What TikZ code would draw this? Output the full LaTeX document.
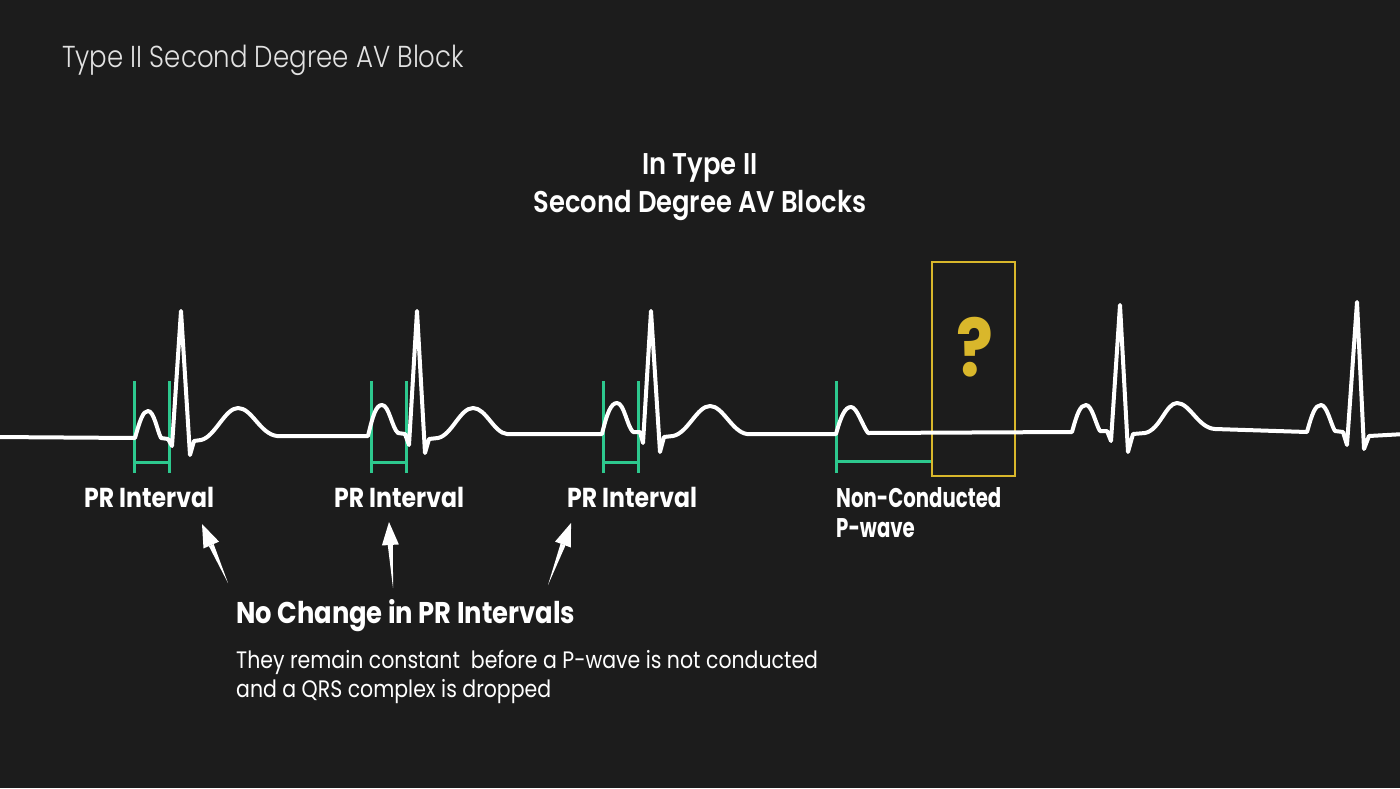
\documentclass[tikz,border=0pt]{standalone}
\usepackage{fontspec}
\setmainfont{Poppins}[FakeStretch=0.86]
\newfontfamily\lightfont{Poppins Light}[FakeStretch=0.86]
\newfontfamily\semifont{Poppins SemiBold}[FakeStretch=0.86]
\newfontfamily\narrowfont{Poppins Bold}[FakeStretch=0.73]
\usetikzlibrary{calc}
\definecolor{bgdark}{HTML}{1C1C1C}
\definecolor{prgreen}{HTML}{2DC88E}
\definecolor{qyellow}{HTML}{D9B72B}
\definecolor{titlegray}{HTML}{E2E2E2}
\tikzset{
  trace/.style={white, line width=4pt, line join=round, line cap=round},
  prmark/.style={prgreen, line width=3pt},
  prtext/.style={text=white, inner sep=0pt, anchor=base west, font=\bfseries\fontsize{27.4}{30}\selectfont},
  nctext/.style={text=white, inner sep=0pt, anchor=base west, font=\narrowfont\fontsize{27}{30}\selectfont},
  bodytext/.style={text=white, inner sep=0pt, anchor=base west, font=\fontsize{23.8}{29}\selectfont},
}
% hand drawn pointer: tapered shaft and a triangular head
\newcommand\pointer[2]{%
  \coordinate (neck) at ($(#2)!23pt!(#1)$);
  \fill[white] (#1) -- ($(neck)!2.6pt!90:(#2)$) -- ($(neck)!2.6pt!-90:(#2)$) -- cycle;
  \fill[white] (#2) -- ($(neck)!8.5pt!90:(#2)$) -- ($(neck)!8.5pt!-90:(#2)$) -- cycle;
}
\begin{document}
\begin{tikzpicture}[x=1pt, y=-1pt]
  \fill[bgdark] (0,0) rectangle (1400,788);
  \useasboundingbox (0,0) rectangle (1400,788);

  % titles
  \node[text=titlegray, inner sep=0pt, anchor=base west, font=\lightfont\fontsize{30.3}{34}\selectfont] (title) at (62,67) {Type II Second Degree AV Block};
  \node[text=white, inner sep=0pt, anchor=base, font=\semifont\fontsize{30}{34}\selectfont] (headA) at (700,174) {In Type II};
  \node[text=white, inner sep=0pt, anchor=base, font=\semifont\fontsize{30}{34}\selectfont] (headB) at (700,212) {Second Degree AV Blocks};

  % PR interval brackets
  \draw[prmark] (134,381) -- (134,473);
  \draw[prmark] (169,381) -- (169,473);
  \draw[prmark] (134,462) -- (169,462);
  \draw[prmark] (371,381) -- (371,473);
  \draw[prmark] (406,381) -- (406,473);
  \draw[prmark] (371,462) -- (406,462);
  \draw[prmark] (603,381) -- (603,473);
  \draw[prmark] (638,381) -- (638,473);
  \draw[prmark] (603,462) -- (638,462);
  \draw[prmark] (836,381) -- (836,473);
  \draw[prmark] (836,461) -- (932,461);

  % dropped QRS
  \node[draw=qyellow, line width=2.5pt, minimum width=83pt, minimum height=214pt, inner sep=0pt] (qbox) at (973.5,369) {};
  \node[text=qyellow, inner sep=0pt, font=\bfseries\fontsize{80}{80}\selectfont] (qmark) at (975,347) {?};

  % ECG trace
  \draw[trace] (-5,437) -- (135,438)
    .. controls (140,420) and (143,411) .. (148,411) .. controls (154,411) and (157,430) .. (161,438) -- (168,439)
    -- (172,446) -- (181,311) -- (190,455) -- (194,441) -- (201,440)
    .. controls (215,437) and (225,408) .. (238,408) .. controls (252,408) and (260,434) .. (277,436) -- (368,436)
    .. controls (373,415) and (376,405) .. (382,405) .. controls (389,405) and (392,428) .. (398,433) -- (405,434)
    -- (409,445) -- (417,311) -- (425,453) -- (429,439) -- (438,438)
    .. controls (452,435) and (460,408) .. (473,408) .. controls (486,408) and (494,433) .. (507,434) -- (602,434)
    .. controls (607,413) and (611,403) .. (617,403) .. controls (624,403) and (627,426) .. (633,432) -- (640,432)
    -- (643,443) -- (651,311) -- (660,452) -- (664,437) -- (673,436)
    .. controls (688,433) and (697,406) .. (710,406) .. controls (723,406) and (732,432) .. (747,434) -- (836,434)
    .. controls (841,416) and (845,407) .. (851,407) .. controls (857,407) and (862,425) .. (868,433) -- (1072,432)
    .. controls (1077,414) and (1080,405) .. (1086,405) .. controls (1092,405) and (1096,425) .. (1100,431) -- (1107,431)
    -- (1111,441) -- (1120,305) -- (1128,452) -- (1133,434) -- (1145,433)
    .. controls (1160,430) and (1166,403) .. (1177,403) .. controls (1190,403) and (1198,428) .. (1215,429) -- (1307,432)
    .. controls (1312,414) and (1315,405) .. (1321,405) .. controls (1327,405) and (1331,425) .. (1335,431) -- (1343,432)
    -- (1347,445) -- (1357,302) -- (1364,449) -- (1369,436) -- (1405,434);

  % labels
  \node[prtext] (pr1) at (84,507) {PR Interval};
  \node[prtext] (pr2) at (334,507) {PR Interval};
  \node[prtext] (pr3) at (567,507) {PR Interval};
  \node[nctext] (ncp) at (836,507) {Non-Conducted};
  \node[nctext] (pwave) at (836,537) {P-wave};

  % pointers
  \coordinate (tail1) at (228,583);
  \coordinate (tip1) at (202,524);
  \coordinate (tail2) at (393,588);
  \coordinate (tip2) at (389,522);
  \coordinate (tail3) at (548,585);
  \coordinate (tip3) at (571,523);
  \pointer{tail1}{tip1}
  \pointer{tail2}{tip2}
  \pointer{tail3}{tip3}

  \node[text=white, inner sep=0pt, anchor=base west, font=\bfseries\fontsize{30}{34}\selectfont] (change) at (236,623) {No Change in PR Intervals};
  \node[bodytext] (note1) at (236,668) {They remain constant\ \ before a P-wave is not conducted};
  \node[bodytext] (note2) at (236,697) {and a QRS complex is dropped};
\end{tikzpicture}
\end{document}
